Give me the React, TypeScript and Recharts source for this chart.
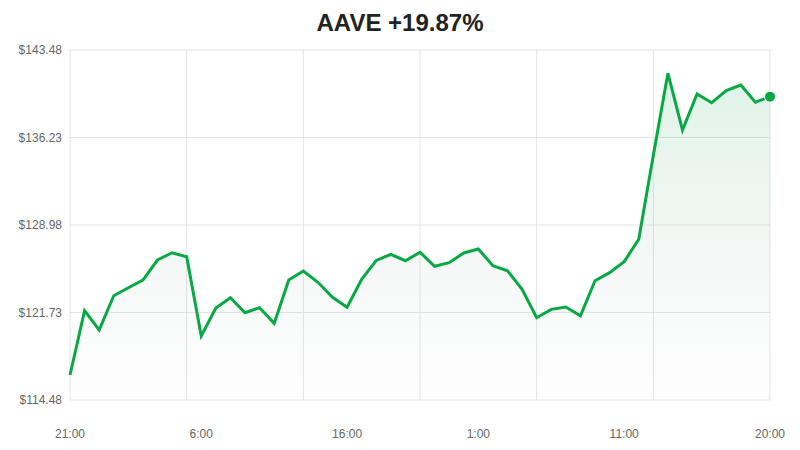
import React from 'react';
import { ComposedChart, Area, XAxis, YAxis, CartesianGrid } from 'recharts';

// hourly prices, 21:00 -> 20:00 (49 samples)
const prices = [
  116.55, 121.88, 120.28, 123.12, 123.78, 124.42, 126.08, 126.68, 126.35, 119.78,
  122.1, 122.96, 121.71, 122.13, 120.83, 124.42, 125.17, 124.23, 122.99, 122.16,
  124.48, 126.05, 126.55, 126.02, 126.72, 125.56, 125.86, 126.66, 126.99, 125.61,
  125.19, 123.65, 121.3, 121.99, 122.19, 121.46, 124.36, 125.03, 125.94, 127.8,
  134.75, 141.55, 136.85, 139.83, 139.11, 140.11, 140.58, 139.15, 139.61,
];

const tickIndexes = [0, 9, 19, 28, 38, 48];
const tickLabels = ['21:00', '6:00', '16:00', '1:00', '11:00', '20:00'];
const gridIndexes = [0, 8, 16, 24, 32, 40, 48];
const priceTicks = [114.48, 121.73, 128.98, 136.23, 143.48];

const title = 'AAVE +19.87%';
const GREEN = '#08a845';
const LAST = prices.length - 1;

const data = prices.map((price, i) => ({ i, price }));

const EndDot = (props: any) => {
  const { cx, cy, index } = props;
  if (index !== LAST) return <g key={index} />;
  return <circle key={index} cx={cx} cy={cy} r={5.5} fill={GREEN} stroke="#fff" strokeWidth={1} />;
};

// vertical grid every 8 samples, placed on the same linear index scale as the x axis
const gridX = ({ offset }: any) =>
  gridIndexes.map((g) => offset.left + (g / LAST) * offset.width);

export default function App() {
  return (
    <div
      style={{
        position: 'absolute',
        left: 0,
        top: 0,
        width: 800,
        height: 450,
        background: '#fff',
        fontFamily: '"Liberation Sans", Arial, sans-serif',
      }}
    >
      <div
        style={{
          position: 'absolute',
          top: 8,
          left: 0,
          width: 800,
          textAlign: 'center',
          fontSize: 24,
          fontWeight: 700,
          color: '#222',
          lineHeight: '30px',
        }}
      >
        {title}
      </div>
      <ComposedChart
        width={800}
        height={450}
        data={data}
        margin={{ top: 50, right: 30, bottom: 20, left: 0 }}
      >
        <defs>
          <linearGradient id="fillPrice" x1="0" y1="0" x2="0" y2="1">
            <stop offset="0%" stopColor={GREEN} stopOpacity={0.13} />
            <stop offset="55%" stopColor="#7fa894" stopOpacity={0.09} />
            <stop offset="100%" stopColor="#c8cfcb" stopOpacity={0.03} />
          </linearGradient>
        </defs>
        <CartesianGrid stroke="#e4e4e4" verticalCoordinatesGenerator={gridX} />
        <XAxis
          dataKey="i"
          type="number"
          domain={[0, LAST]}
          ticks={tickIndexes}
          tickFormatter={(v: number) => tickLabels[tickIndexes.indexOf(v)] ?? ''}
          axisLine={false}
          tickLine={false}
          tickMargin={23}
          height={30}
          interval={0}
          tick={{ fill: '#666', fontSize: 12 }}
        />
        <YAxis
          type="number"
          domain={[114.48, 143.48]}
          ticks={priceTicks}
          tickFormatter={(v: number) => '$' + v.toFixed(2)}
          axisLine={false}
          tickLine={false}
          width={70}
          interval={0}
          tick={{ fill: '#666', fontSize: 12 }}
        />
        <Area
          type="linear"
          dataKey="price"
          stroke={GREEN}
          strokeWidth={3}
          fill="url(#fillPrice)"
          fillOpacity={1}
          dot={EndDot}
          activeDot={false}
          isAnimationActive={false}
        />
      </ComposedChart>
    </div>
  );
}
